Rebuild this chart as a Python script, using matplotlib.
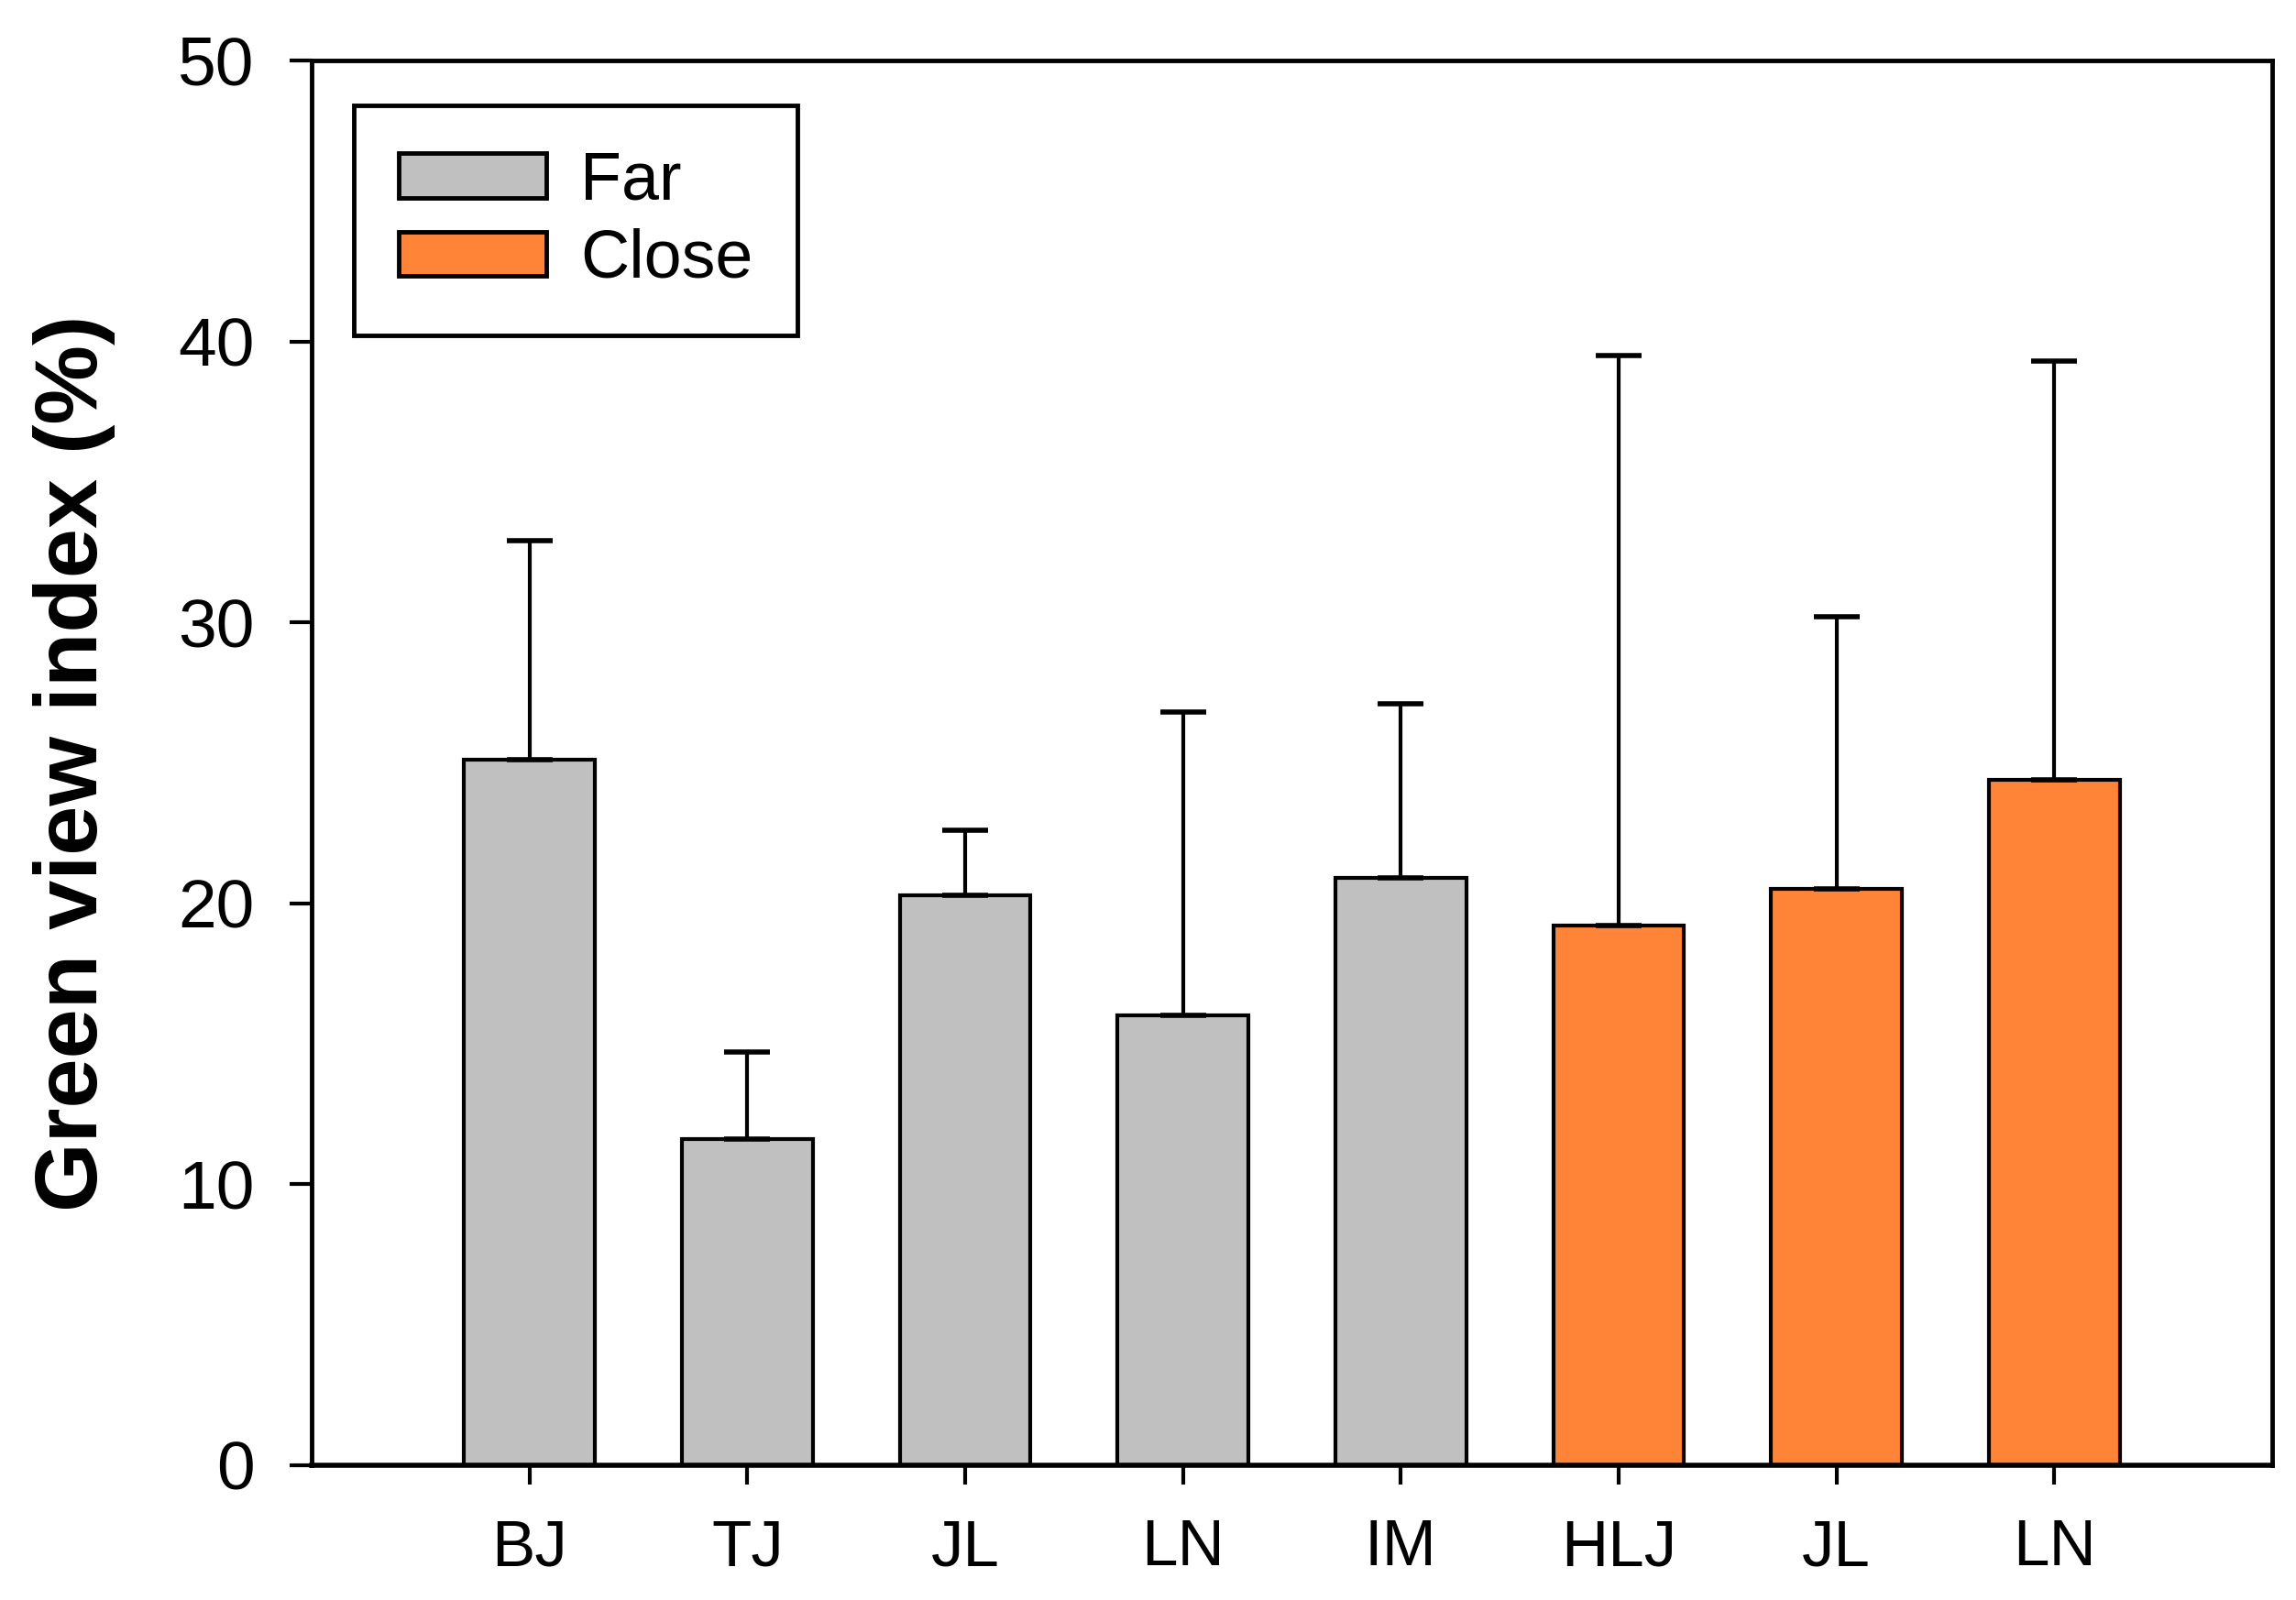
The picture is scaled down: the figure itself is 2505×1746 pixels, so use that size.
import matplotlib.pyplot as plt
import numpy as np
from matplotlib.patches import Patch

plt.rcParams["font.family"] = ["Liberation Sans", "DejaVu Sans"]

# Data
sites = ["BJ", "TJ", "JL", "LN", "IM", "HLJ", "JL", "LN"]
groups = ["Far", "Far", "Far", "Far", "Far", "Close", "Close", "Close"]
means = [25.1, 11.6, 20.3, 16.0, 20.9, 19.2, 20.5, 24.4]
upper = [32.9, 14.7, 22.6, 26.8, 27.1, 39.5, 30.2, 39.3]

group_colors = {"Far": "#C0C0C0", "Close": "#FF8438"}

x = np.arange(len(sites))
err = np.array(upper) - np.array(means)
colors = [group_colors[g] for g in groups]

fig = plt.figure(figsize=(25.05, 17.46), dpi=100)
ax = fig.add_axes([0.1357, 0.0842, 0.8539, 0.878])

ax.bar(x, means, width=0.6, color=colors, edgecolor="black", linewidth=3, zorder=2)
ax.errorbar(x, means, yerr=[np.zeros(len(x)), err], fmt="none", ecolor="black",
            elinewidth=3, capsize=18, capthick=4, zorder=3)

ax.set_xlim(-1, 8)
ax.set_ylim(0, 50)
ax.set_yticks([0, 10, 20, 30, 40, 50])
ax.set_xticks(x)
ax.set_xticklabels(sites)

for side in ["left", "right", "top", "bottom"]:
    ax.spines[side].set_linewidth(3.5)
ax.spines["bottom"].set_linewidth(4)
ax.tick_params(axis="y", direction="out", length=17, width=3, labelsize=54, pad=28,
               right=False)
ax.tick_params(axis="x", direction="out", length=15, width=3, labelsize=51, pad=27,
               top=False)

ax.set_ylabel("Green view index (%)", fontsize=70, fontweight="bold")
ax.yaxis.set_label_coords(-0.1, 0.5)

handles = [Patch(facecolor=group_colors[g], edgecolor="black", linewidth=3.5, label=g)
           for g in ["Far", "Close"]]
leg = ax.legend(handles=handles, loc="upper left", bbox_to_anchor=(0.0215, 0.968),
                borderaxespad=0, fontsize=53, frameon=True, fancybox=False,
                framealpha=1, edgecolor="black", handlelength=2.2, handleheight=0.64,
                handletextpad=0.5, labelspacing=0.22, borderpad=0.66)
leg.get_frame().set_linewidth(3.5)

fig.savefig("out.png", dpi=100)
